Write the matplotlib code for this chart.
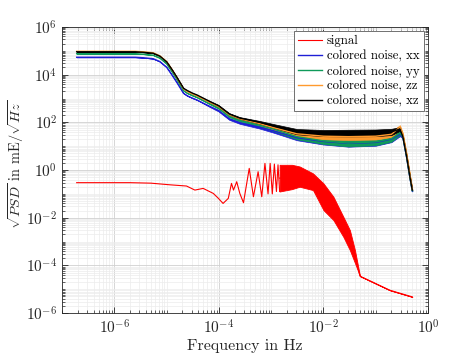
import numpy as np
import matplotlib
matplotlib.use("Agg")
import matplotlib.pyplot as plt
from matplotlib.ticker import LogLocator, FixedLocator, NullFormatter

plt.rcParams.update({
    "font.family": ["cmr10", "DejaVu Serif"],
    "mathtext.fontset": "cm",
    "axes.formatter.use_mathtext": True,
    "axes.unicode_minus": False,
})

# ---------------- data ----------------
# colored noise: frequencies (Hz) and log10 of sqrt(PSD) (mE/sqrt(Hz))
f_noise = [1.9e-7, 2.5e-6, 3.55e-6, 5.5e-6, 7.4e-6, 1e-5, 1.26e-5, 1.55e-5, 2.1e-5,
           2.5e-5, 3.16e-5, 3.8e-5, 6.76e-5, 9.8e-5, 1.58e-4, 2.5e-4, 6e-4, 1.1e-3,
           3.1e-3, 1e-2, 3e-2, 1e-1, 2e-1, 2.9e-1, 3.3e-1, 3.9e-1, 4.5e-1, 5e-1]
log_xz = [4.96, 4.96, 4.94, 4.90, 4.78, 4.54, 4.22, 3.91, 3.43, 3.33, 3.22, 3.15,
          2.87, 2.70, 2.35, 2.18, 2.00, 1.85, 1.61, 1.55, 1.55, 1.56, 1.60, 1.72,
          1.40, 0.56, -0.28, -0.84]
log_zz = [4.98, 4.98, 4.96, 4.92, 4.79, 4.55, 4.22, 3.90, 3.41, 3.30, 3.19, 3.12,
          2.84, 2.67, 2.32, 2.15, 1.95, 1.78, 1.52, 1.42, 1.40, 1.42, 1.50, 1.80,
          1.50, 0.65, -0.20, -0.80]
log_yy = [4.88, 4.88, 4.86, 4.82, 4.70, 4.46, 4.13, 3.82, 3.33, 3.22, 3.12, 3.05,
          2.77, 2.60, 2.25, 2.08, 1.88, 1.72, 1.40, 1.22, 1.13, 1.18, 1.32, 1.55,
          1.40, 0.55, -0.30, -0.86]
log_xx = [4.73, 4.73, 4.71, 4.67, 4.55, 4.31, 3.99, 3.69, 3.22, 3.11, 3.01, 2.94,
          2.66, 2.49, 2.14, 1.98, 1.80, 1.65, 1.36, 1.20, 1.12, 1.16, 1.30, 1.50,
          1.38, 0.52, -0.32, -0.88]
# half-width (decades) of the dense noisy band around each noise curve
noise_spread = [0, 0, 0, 0, 0, 0, 0, 0, 0, 0, 0, 0, 0.02, 0.03, 0.035, 0.04, 0.06,
                0.08, 0.11, 0.13, 0.14, 0.14, 0.13, 0.08, 0.05, 0.04, 0.03, 0.02]

# signal: resolved part (single line)
f_sig = [1.9e-7, 1e-6, 2e-6, 5e-6, 1.17e-5, 2.4e-5, 3.47e-5, 5e-5, 7.8e-5, 9.8e-5,
         1.2e-4, 1.51e-4, 1.74e-4, 1.9e-4, 2.19e-4, 2.51e-4, 2.95e-4, 3.8e-4,
         4.57e-4, 5.62e-4, 6.6e-4, 7.59e-4, 8.7e-4, 9.55e-4, 1.05e-3, 1.15e-3,
         1.26e-3, 1.35e-3, 1.45e-3]
log_sig = [-0.53, -0.53, -0.53, -0.55, -0.62, -0.67, -0.84, -0.77, -0.98, -1.19,
           -1.40, -1.19, -0.56, -0.84, -0.49, -0.98, -1.37, 0.07, -1.12, -0.07,
           -1.12, 0.28, -1.00, 0.28, -1.00, 0.25, -0.90, 0.22, -0.90]
# signal: dense part (band between lower and upper envelope)
f_sig_band = [1.45e-3, 2.5e-3, 3.5e-3, 6.3e-3, 1e-2, 1.55e-2, 2.4e-2, 3.2e-2,
              4e-2, 5e-2, 1.86e-1, 5e-1]
log_sig_hi = [0.22, 0.22, 0.15, -0.14, -0.56, -1.12, -1.96, -2.52, -3.36, -4.45, -5.04, -5.32]
log_sig_lo = [-0.90, -0.80, -0.70, -0.84, -1.68, -2.10, -2.80, -3.36, -3.90, -4.45, -5.04, -5.32]

labels = ["signal", "colored noise, xx", "colored noise, yy",
          "colored noise, zz", "colored noise, xz"]
colors = ["#ff0000", "#1f1fd6", "#0f9a5a", "#ff9a2e", "#000000"]

# ---------------- figure ----------------
fig = plt.figure(figsize=(4.74, 3.55), dpi=100)
ax = fig.add_axes([0.131, 0.118, 0.772, 0.806])

handles = []
# signal
h, = ax.plot(f_sig, 10.0 ** np.array(log_sig), color=colors[0], lw=0.8)
ax.fill_between(f_sig_band, 10.0 ** np.array(log_sig_lo), 10.0 ** np.array(log_sig_hi),
                color=colors[0], lw=0.6, edgecolor=colors[0])
ax.plot(f_sig_band, 10.0 ** ((np.array(log_sig_lo) + np.array(log_sig_hi)) / 2),
        color=colors[0], lw=0.8)
handles.append(h)

sp = np.array(noise_spread)
for logv, col in zip([log_xx, log_yy, log_zz, log_xz], colors[1:]):
    c = np.array(logv)
    h, = ax.plot(f_noise, 10.0 ** c, color=col, lw=1.0)
    ax.fill_between(f_noise, 10.0 ** (c - sp), 10.0 ** (c + sp), color=col,
                    lw=0.5, edgecolor=col)
    handles.append(h)

ax.set_xscale("log")
ax.set_yscale("log")
ax.set_xlim(1e-7, 1e0)
ax.set_ylim(1e-6, 1e6)

ax.xaxis.set_major_locator(FixedLocator([1e-6, 1e-4, 1e-2, 1e0]))
ax.yaxis.set_major_locator(FixedLocator([1e-6, 1e-4, 1e-2, 1e0, 1e2, 1e4, 1e6]))
ax.xaxis.set_minor_locator(LogLocator(base=10, subs=np.arange(1, 10) * 1.0, numticks=100))
ax.yaxis.set_minor_locator(LogLocator(base=10, subs=np.arange(1, 10) * 1.0, numticks=100))
ax.xaxis.set_minor_formatter(NullFormatter())
ax.yaxis.set_minor_formatter(NullFormatter())

ax.grid(True, which="major", color="#d0d0d0", lw=0.6)
ax.grid(True, which="minor", color="#ececec", lw=0.5)
ax.set_axisbelow(True)

ax.tick_params(which="both", direction="in", top=True, right=True,
               colors="#262626", labelsize=11)
ax.tick_params(which="major", length=4, width=0.6)
ax.tick_params(which="minor", length=2, width=0.5)
for s in ax.spines.values():
    s.set_color("#262626")
    s.set_linewidth(0.6)

ax.set_xlabel("Frequency in Hz", fontsize=11.5, color="#262626", labelpad=2)
ax.set_ylabel(r"$\sqrt{PSD}$ in mE$/\sqrt{Hz}$", fontsize=10.3, color="#262626")
ax.yaxis.set_label_coords(-0.10, 0.52)

leg = ax.legend(handles, labels, loc="upper right", fontsize=9.2, fancybox=False,
                framealpha=1, edgecolor="#707070", borderpad=0.3, labelspacing=0.21,
                handlelength=1.9, handletextpad=0.4, borderaxespad=0.35)
leg.get_frame().set_linewidth(0.7)

fig.savefig("out.png", dpi=100)
